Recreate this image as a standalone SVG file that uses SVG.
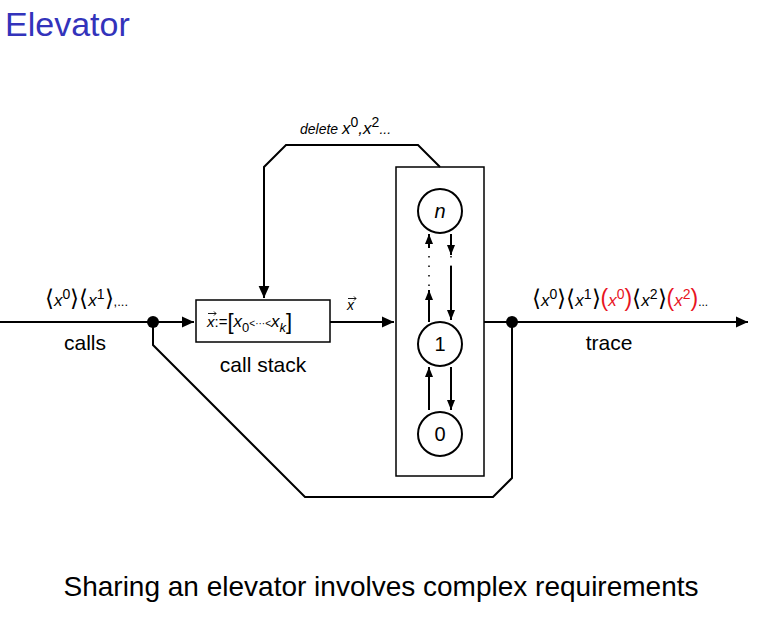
<svg xmlns="http://www.w3.org/2000/svg" width="766" height="627" viewBox="0 0 766 627">
<style>
.l{fill:none;stroke:#000;stroke-width:2}
.t{font-family:"Liberation Sans",Arial,sans-serif;fill:#000}
.r{fill:#e8141e}
.i{font-style:italic;font-size:17px}
.s{font-size:14px}
.v{fill:none;stroke:#000;stroke-width:0.9}
</style>
<defs>
<marker id="a" viewBox="0 0 10 10" refX="10" refY="5" markerWidth="10" markerHeight="10" markerUnits="userSpaceOnUse" orient="auto"><path d="M0,1L10,5L0,9z"/></marker>
<marker id="b" viewBox="0 0 10 10" refX="10" refY="5" markerWidth="20" markerHeight="12" markerUnits="userSpaceOnUse" orient="auto"><path d="M0,0.5L10,5L0,9.5z"/></marker>
</defs>
<rect width="766" height="627" fill="#fff"/>
<text class="t" x="5" y="36" font-size="34" style="fill:#3333bb">Elevator</text>
<g id="connectors">
<path class="l" d="M0,322H194" marker-end="url(#b)"/>
<path class="l" d="M330,322H394" marker-end="url(#b)"/>
<path class="l" d="M484,322H748" marker-end="url(#b)"/>
<path class="l" d="M153,322V345L305,497H493L512,478V322"/>
<path class="l" d="M440,167L418,145H286L264,167V298" marker-end="url(#b)"/>
<circle cx="153" cy="322" r="6"/>
<circle cx="512" cy="322" r="6"/>
</g>
<g id="callstack">
<rect x="196" y="300" width="134" height="42" fill="#fff" stroke="#000" stroke-width="1.5"/>
<text class="t" x="207" y="327" font-size="15"><tspan font-style="italic">x</tspan>:=<tspan font-size="22" dy="2">[</tspan><tspan dy="-2" font-size="17" font-style="italic">x</tspan><tspan font-size="13" dy="5">0</tspan><tspan font-size="10" dy="-5">&lt;···&lt;</tspan><tspan font-size="17" font-style="italic">x</tspan><tspan font-size="13" dy="5" font-style="italic">k</tspan><tspan font-size="22" dy="-3">]</tspan></text>
<path class="v" d="M208,313.5H216M214,311.5L216,313.5L214,315.5"/>
<text class="t" x="263" y="372" font-size="21" text-anchor="middle">call stack</text>
</g>
<g id="elevator">
<rect x="396" y="167" width="88" height="309" fill="none" stroke="#000" stroke-width="1.5"/>
<circle cx="440" cy="211" r="22" fill="#fff" stroke="#000" stroke-width="2"/>
<circle cx="440" cy="344" r="22" fill="#fff" stroke="#000" stroke-width="2"/>
<circle cx="440" cy="434" r="22" fill="#fff" stroke="#000" stroke-width="2"/>
<text class="t" x="440" y="218" font-size="20" font-style="italic" text-anchor="middle">n</text>
<text class="t" x="440" y="351" font-size="20" text-anchor="middle">1</text>
<text class="t" x="440" y="441" font-size="20" text-anchor="middle">0</text>
<path class="l" d="M429,248V234" marker-end="url(#a)"/>
<path class="l" d="M429,322V290" marker-end="url(#a)"/>
<path class="l" d="M451,234V255" marker-end="url(#a)"/>
<path class="l" d="M451,266V320" marker-end="url(#a)"/>
<path class="l" d="M429,410V367" marker-end="url(#a)"/>
<path class="l" d="M451,367V410" marker-end="url(#a)"/>
<path d="M429,256V286M451,256V266" fill="none" stroke="#000" stroke-width="1.5" stroke-dasharray="1.5,8"/>
</g>
<g id="labels">
<text class="t" x="45" y="306" font-size="23">⟨<tspan class="i">x</tspan><tspan class="s" dy="-7">0</tspan><tspan dy="7">⟩⟨</tspan><tspan class="i">x</tspan><tspan class="s" dy="-7">1</tspan><tspan dy="7">⟩</tspan><tspan font-size="13">,...</tspan></text>
<text class="t" x="85" y="350" font-size="21" text-anchor="middle">calls</text>
<text class="t" x="347" y="310" font-size="14" font-style="italic">x</text>
<path class="v" d="M348,298.5H356M354,296.5L356,298.5L354,300.5"/>
<text class="t" x="300" y="134" font-size="14" font-style="italic">delete <tspan font-size="17">x</tspan><tspan font-style="normal" font-size="14" dy="-7">0</tspan><tspan dy="7" font-size="17">,x</tspan><tspan font-style="normal" font-size="14" dy="-7">2</tspan><tspan dy="7">...</tspan></text>
<text class="t" x="532" y="306" font-size="23">⟨<tspan class="i">x</tspan><tspan class="s" dy="-7">0</tspan><tspan dy="7">⟩⟨</tspan><tspan class="i">x</tspan><tspan class="s" dy="-7">1</tspan><tspan dy="7">⟩</tspan><tspan class="r">(</tspan><tspan class="r i">x</tspan><tspan class="r s" dy="-7">0</tspan><tspan class="r" dy="7">)</tspan>⟨<tspan class="i">x</tspan><tspan class="s" dy="-7">2</tspan><tspan dy="7">⟩</tspan><tspan class="r">(</tspan><tspan class="r i">x</tspan><tspan class="r s" dy="-7">2</tspan><tspan class="r" dy="7">)</tspan><tspan font-size="12">...</tspan></text>
<text class="t" x="609" y="350" font-size="21" text-anchor="middle">trace</text>
<text class="t" x="381" y="596" font-size="28" text-anchor="middle">Sharing an elevator involves complex requirements</text>
</g>
</svg>
